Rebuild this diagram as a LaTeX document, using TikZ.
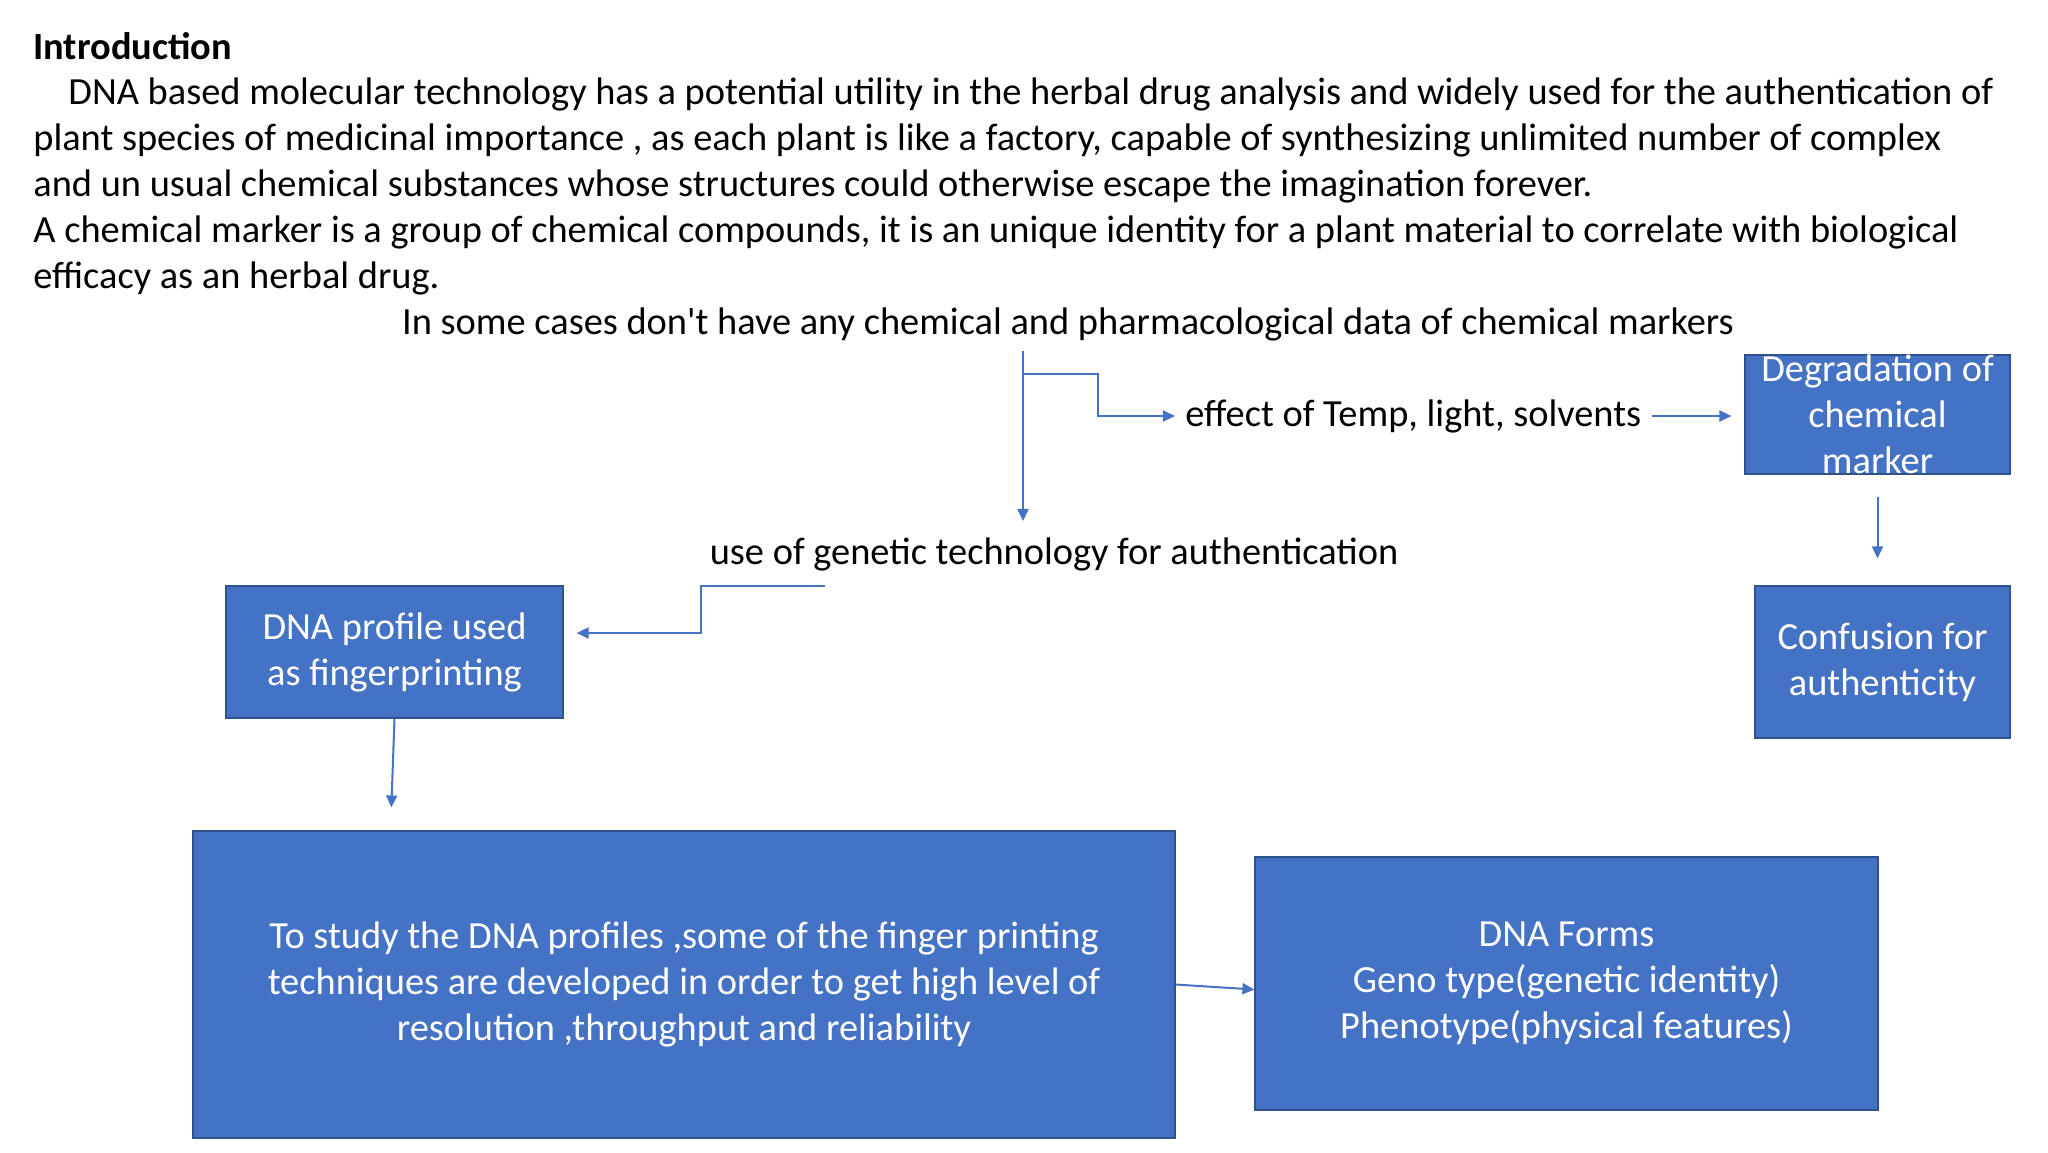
\documentclass[tikz,border=0pt]{standalone}
\usepackage{fontspec}
\setmainfont{Carlito}
\usepackage{tikz}
\usetikzlibrary{arrows.meta, positioning, calc}
\definecolor{officeblue}{RGB}{68,114,196}
\definecolor{officeedge}{RGB}{47,82,143}
\newcommand{\slidefont}{\fontsize{19.2}{23}\selectfont}
\tikzset{
  bluebox/.style={rectangle, draw=officeedge, line width=0.6pt, fill=officeblue,
    text=white, align=center, font=\slidefont, inner sep=0pt},
  plain/.style={font=\slidefont, inner sep=5pt},
  arr/.style={-{Triangle[length=6pt, width=5.5pt]}, line width=1pt, officeblue},
}
\begin{document}
\begin{tikzpicture}[x=0.5pt, y=-0.5pt]
  \useasboundingbox[fill=white] (0,0) rectangle (2048,1152);
  \node[plain, inner sep=0pt, anchor=west, font=\slidefont\bfseries] (title) at (33,46) {Introduction};
  \node[plain, inner sep=0pt, anchor=north west, align=left] (intro) at (33,77) {\hspace*{17.5pt}DNA based molecular technology has a potential utility in the herbal drug analysis and widely used for the authentication of\\
plant species of medicinal importance , as each plant is like a factory, capable of synthesizing unlimited number of complex\\
and un usual chemical substances whose structures could otherwise escape the imagination forever.\\
A chemical marker is a group of chemical compounds, it is an unique identity for a plant material to correlate with biological\\
efficacy as an herbal drug.};
  \node[plain] (cases) at (1068,324) {In some cases don\textquotesingle t have any chemical and pharmacological data of chemical markers};
  \node[plain, anchor=west] (effect) at (1175,416) {effect of Temp, light, solvents};
  \node[bluebox, minimum width=132.5pt, minimum height=59.5pt] (degr) at (1877.5,414.5) {Degradation of\\chemical\\marker};
  \node[bluebox, minimum width=127.5pt, minimum height=76pt] (confu) at (1882.5,662) {Confusion for\\authenticity};
  \node[plain] (genetic) at (1054,554) {use of genetic technology for authentication};
  \node[bluebox, minimum width=168.5pt, minimum height=66pt] (dnaprof) at (394.5,652) {DNA profile used\\as fingerprinting};
  \node[bluebox, minimum width=491pt, minimum height=153.5pt] (study) at (684,984.5) {To study the DNA profiles ,some of the finger printing\\techniques are developed in order to get high level of\\resolution ,throughput and reliability};
  \node[bluebox, minimum width=311.5pt, minimum height=126.5pt] (forms) at (1566.5,983.5) {DNA Forms\\Geno type(genetic identity)\\Phenotype(physical features)};

  % connectors
  \coordinate (fork) at (1023,374);
  \coordinate (gstart) at (825,586);
  \coordinate (gbend) at (701,586);
  \draw[arr] (cases.south -| fork) -- ([yshift=3pt]genetic.north -| fork);
  \draw[arr] (fork) -- ++(75,0) |- (effect.west);
  \draw[arr, shorten >=6.5pt] (effect.east) -- (effect.east -| degr.west);
  \draw[arr, shorten <=11pt, shorten >=13.5pt] (degr.south) -- (degr.south |- confu.north);
  \draw[arr, shorten >=6.5pt] (gstart) -- (gbend) |- ([yshift=9.5pt]dnaprof.east);
  \draw[arr, shorten >=11.5pt] (dnaprof.south) -- ([xshift=-2pt]dnaprof.south |- study.north);
  \draw[arr] (study.east) -- ([yshift=-3pt]forms.west);
\end{tikzpicture}
\end{document}
